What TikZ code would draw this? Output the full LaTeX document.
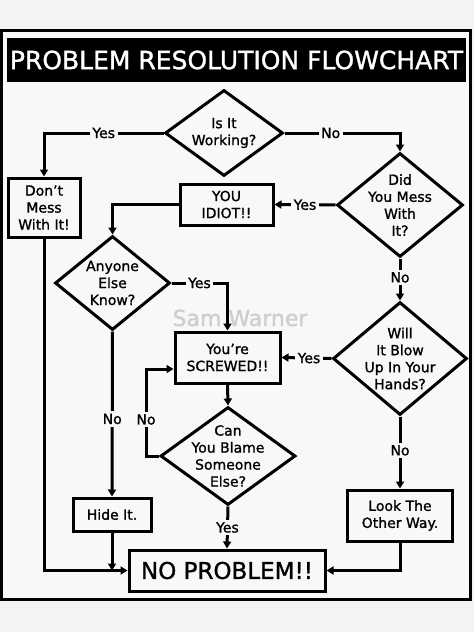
\documentclass[tikz,border=0pt]{standalone}
\usepackage{fontspec}
\setmainfont{DejaVu Sans}[FakeBold=1.2]
\usetikzlibrary{shapes.geometric,arrows.meta,calc}
\definecolor{bgout}{RGB}{243,243,243}
\definecolor{bgin}{RGB}{248,248,248}
\definecolor{wmark}{RGB}{200,200,200}
\tikzset{
  base/.style={font=\fontsize{14}{17}\selectfont, align=center},
  box/.style={base, draw=black, line width=3pt, fill=bgin, rectangle, inner sep=0pt},
  dia/.style={draw=black, line width=3pt, fill=bgin, diamond, inner sep=0pt},
  dtext/.style={base},
  conn/.style={line width=3pt, draw=black},
  arr/.style={conn, -{Triangle[length=7pt,width=8pt]}},
  lab/.style={base, fill=bgin, inner sep=2.5pt},
}
\begin{document}
\begin{tikzpicture}[x=1pt,y=-1pt]
\useasboundingbox (0,0) rectangle (474,632);
\fill[bgout] (0,0) rectangle (474,632);
% outer frame
\draw[line width=3pt, fill=bgin] (1.5,30) rectangle (470.5,599);
% title bar
\node[fill=black, minimum width=459pt, minimum height=44pt, inner sep=0pt,
      text=white, font=\fontsize{25}{29}\selectfont] (title) at (236.5,60) {PROBLEM RESOLUTION FLOWCHART};

% diamonds
\node[dia, minimum width=118pt, minimum height=86pt,
      label={[dtext]center:Is It\\Working?}] (w) at (224,133) {};
\node[dia, minimum width=126pt, minimum height=104pt,
      label={[dtext]center:Did\\You Mess\\With\\It?}] (dy) at (400,205) {};
\node[dia, minimum width=115pt, minimum height=94pt,
      label={[dtext]center:Anyone\\Else\\Know?}] (ae) at (112.5,283) {};
\node[dia, minimum width=134pt, minimum height=113pt,
      label={[dtext]center:Will\\It Blow\\Up In Your\\Hands?}] (wb) at (400,358.5) {};
\node[dia, minimum width=135pt, minimum height=98pt,
      label={[dtext]center:Can\\You Blame\\Someone\\Else?}] (cb) at (228,456) {};

% boxes
\node[box, minimum width=72pt, minimum height=59pt] (dm) at (44,207.5) {Don’t\\Mess\\With It!};
\node[box, minimum width=93pt, minimum height=41pt] (yi) at (226.5,204.5) {YOU\\IDIOT!!};
\node[box, minimum width=105pt, minimum height=51pt] (sc) at (227.5,357.5) {You’re\\SCREWED!!};
\node[box, minimum width=78pt, minimum height=33pt] (hi) at (112,514.5) {Hide It.};
\node[box, minimum width=105pt, minimum height=51pt] (lo) at (400,515.5) {Look The\\Other Way.};
\node[box, minimum width=196pt, minimum height=41pt, font=\fontsize{23}{27}\selectfont] (np) at (227,570.5) {NO PROBLEM!!};

% connectors
\draw[arr] (w.west) -| node[lab, pos=0.25] {Yes} (dm.north);
\draw[arr] (w.east) -| node[lab, pos=0.2] {No} (dy.north);
\draw[arr] (dy.west) -- node[lab, pos=0.5] {Yes} (yi.east);
\draw[arr] (yi.west) -| (ae.north);
\draw[arr] (ae.east) -| node[lab, pos=0.25] {Yes} (sc.north);
\draw[arr] (ae.south) -- node[lab, pos=0.53] {No} (hi.north);
\draw[arr] (hi.south) -- (hi.south |- np.west);
\draw[arr] (dm.south) |- (np.west);
\draw[arr] (dy.south) -- node[lab, pos=0.45] {No} (wb.north);
\draw[arr] (wb.west) -- node[lab, pos=0.45] {Yes} (sc.east);
\draw[arr] (sc.south) -- (cb.north);
\draw[arr] (cb.west) -- ++(-13,0) |- node[lab, pos=0.21] {No} ($(sc.west)+(0,11.5)$);
\draw[arr] (cb.south) -- node[lab, pos=0.5] {Yes} (np.north);
\draw[arr] (wb.south) -- node[lab, pos=0.47] {No} (lo.north);
\draw[arr] (lo.south) |- (np.east);

% watermark
\node[text=wmark, opacity=0.85, font=\fontsize{22}{26}\selectfont] (wm) at (240,318) {Sam Warner};
\end{tikzpicture}
\end{document}
